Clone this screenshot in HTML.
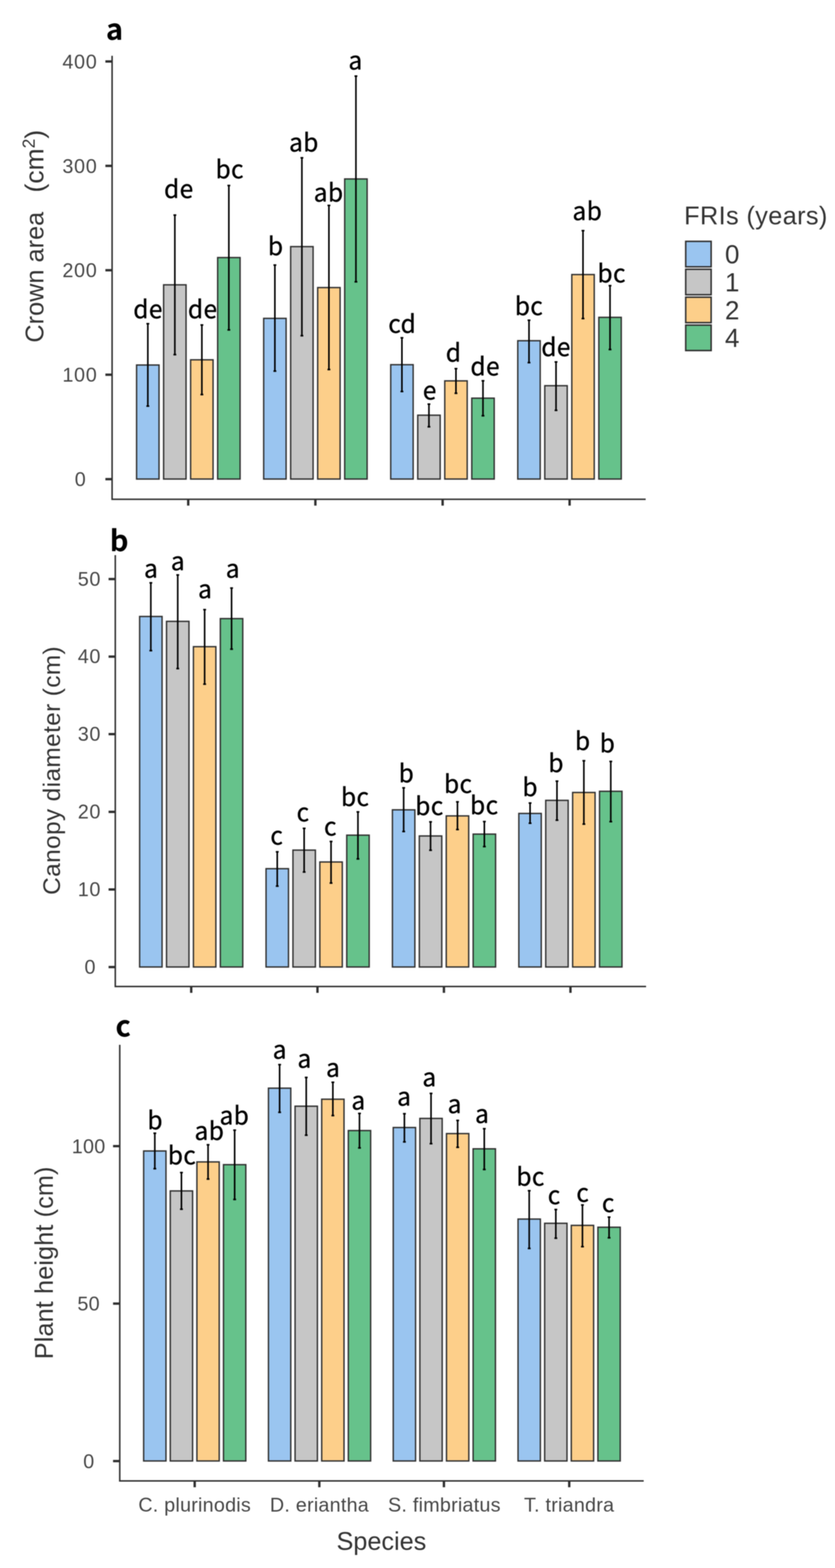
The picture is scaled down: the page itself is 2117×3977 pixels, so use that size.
<!DOCTYPE html>
<html lang="en">
<head>
<meta charset="utf-8">
<title>Crown area, canopy diameter and plant height by species and FRIs</title>
<style>
html,body{margin:0;padding:0;background:#fff;}
body{width:2117px;height:3977px;overflow:hidden;}
svg{display:block;filter:blur(0.8px);font-family:"Liberation Sans",sans-serif;}
svg text{paint-order:stroke;}
.l{font-family:"Noto Sans CJK JP","Noto Sans CJK SC","Liberation Sans",sans-serif;font-size:62px;letter-spacing:1px;text-anchor:middle;fill:#000;stroke:#000;stroke-width:0.8px;}
.pl{font-family:"Noto Sans CJK JP","Noto Sans CJK SC","Liberation Sans",sans-serif;font-size:74px;font-weight:bold;fill:#000;}
</style>
</head>
<body>
<svg width="2117" height="3977" viewBox="0 0 2117 3977">
<rect width="2117" height="3977" fill="#fff"/>
<rect x="346.3" y="925.8" width="56.9" height="289.2" fill="#9AC5F0" stroke="#303030" stroke-width="3.5"/>
<rect x="414.8" y="722.4" width="56.9" height="492.6" fill="#C6C6C6" stroke="#303030" stroke-width="3.5"/>
<rect x="483.3" y="912.6" width="56.9" height="302.4" fill="#FDCF8A" stroke="#303030" stroke-width="3.5"/>
<rect x="551.8" y="653.3" width="56.9" height="561.7" fill="#66C28B" stroke="#303030" stroke-width="3.5"/>
<rect x="668.5" y="807.5" width="56.9" height="407.5" fill="#9AC5F0" stroke="#303030" stroke-width="3.5"/>
<rect x="736.9" y="625.5" width="56.9" height="589.5" fill="#C6C6C6" stroke="#303030" stroke-width="3.5"/>
<rect x="805.4" y="729.4" width="56.9" height="485.6" fill="#FDCF8A" stroke="#303030" stroke-width="3.5"/>
<rect x="873.9" y="453.9" width="56.9" height="761.1" fill="#66C28B" stroke="#303030" stroke-width="3.5"/>
<rect x="990.6" y="925.0" width="56.9" height="290.0" fill="#9AC5F0" stroke="#303030" stroke-width="3.5"/>
<rect x="1059.1" y="1053.1" width="56.9" height="161.9" fill="#C6C6C6" stroke="#303030" stroke-width="3.5"/>
<rect x="1127.6" y="966.0" width="56.9" height="249.0" fill="#FDCF8A" stroke="#303030" stroke-width="3.5"/>
<rect x="1196.1" y="1009.9" width="56.9" height="205.1" fill="#66C28B" stroke="#303030" stroke-width="3.5"/>
<rect x="1312.7" y="864.2" width="56.9" height="350.8" fill="#9AC5F0" stroke="#303030" stroke-width="3.5"/>
<rect x="1381.2" y="978.3" width="56.9" height="236.7" fill="#C6C6C6" stroke="#303030" stroke-width="3.5"/>
<rect x="1449.7" y="696.4" width="56.9" height="518.6" fill="#FDCF8A" stroke="#303030" stroke-width="3.5"/>
<rect x="1518.2" y="804.9" width="56.9" height="410.1" fill="#66C28B" stroke="#303030" stroke-width="3.5"/>
<path d="M374.8 819.3V1031.9M371.2 821.1h7.2M371.2 1030.1h7.2" stroke="#000" stroke-width="4.0" fill="none"/>
<path d="M443.3 543.8V901.2M439.7 545.6h7.2M439.7 899.4h7.2" stroke="#000" stroke-width="4.0" fill="none"/>
<path d="M511.8 822.5V1002.5M508.2 824.3h7.2M508.2 1000.7h7.2" stroke="#000" stroke-width="4.0" fill="none"/>
<path d="M580.2 468.8V838.6M576.6 470.6h7.2M576.6 836.8h7.2" stroke="#000" stroke-width="4.0" fill="none"/>
<path d="M696.9 670.5V943.0M693.3 672.3h7.2M693.3 941.2h7.2" stroke="#000" stroke-width="4.0" fill="none"/>
<path d="M765.4 398.5V853.3M761.8 400.3h7.2M761.8 851.5h7.2" stroke="#000" stroke-width="4.0" fill="none"/>
<path d="M833.9 519.1V939.0M830.3 520.9h7.2M830.3 937.2h7.2" stroke="#000" stroke-width="4.0" fill="none"/>
<path d="M902.4 191.2V716.5M898.8 193.0h7.2M898.8 714.7h7.2" stroke="#000" stroke-width="4.0" fill="none"/>
<path d="M1019.0 854.9V994.8M1015.4 856.7h7.2M1015.4 993.0h7.2" stroke="#000" stroke-width="4.0" fill="none"/>
<path d="M1087.5 1023.3V1084.2M1083.9 1025.1h7.2M1083.9 1082.4h7.2" stroke="#000" stroke-width="4.0" fill="none"/>
<path d="M1156.0 933.1V999.4M1152.4 934.9h7.2M1152.4 997.6h7.2" stroke="#000" stroke-width="4.0" fill="none"/>
<path d="M1224.5 963.9V1056.4M1220.9 965.7h7.2M1220.9 1054.6h7.2" stroke="#000" stroke-width="4.0" fill="none"/>
<path d="M1341.2 810.5V921.5M1337.6 812.3h7.2M1337.6 919.7h7.2" stroke="#000" stroke-width="4.0" fill="none"/>
<path d="M1409.7 916.1V1042.5M1406.1 917.9h7.2M1406.1 1040.7h7.2" stroke="#000" stroke-width="4.0" fill="none"/>
<path d="M1478.1 583.1V809.7M1474.5 584.9h7.2M1474.5 807.9h7.2" stroke="#000" stroke-width="4.0" fill="none"/>
<path d="M1546.6 722.6V888.3M1543.0 724.4h7.2M1543.0 886.5h7.2" stroke="#000" stroke-width="4.0" fill="none"/>
<text class="l" x="375.5" y="807.0">de</text>
<text class="l" x="453.5" y="502.0">de</text>
<text class="l" x="514.0" y="807.0">de</text>
<text class="l" x="582.4" y="451.8" letter-spacing="-0.3">bc</text>
<text class="l" x="699.0" y="646.6">b</text>
<text class="l" x="770.5" y="383.7">ab</text>
<text class="l" x="833.2" y="511.3">ab</text>
<text class="l" x="901.5" y="176.0">a</text>
<text class="l" x="1019.9" y="844.0">cd</text>
<text class="l" x="1089.8" y="1013.2">e</text>
<text class="l" x="1149.9" y="916.9">d</text>
<text class="l" x="1230.1" y="951.6">de</text>
<text class="l" x="1341.2" y="799.0" letter-spacing="-0.3">bc</text>
<text class="l" x="1409.8" y="903.0">de</text>
<text class="l" x="1489.2" y="557.6">ab</text>
<text class="l" x="1550.8" y="716.4" letter-spacing="-0.3">bc</text>
<path d="M284.2 141.5V1266.4H1637" stroke="#2e2e2e" stroke-width="3.8" fill="none" stroke-linejoin="miter"/>
<path d="M267.2 155.9H284.2" stroke="#2e2e2e" stroke-width="6.0"/>
<text x="202.6" y="173.8" font-size="50" letter-spacing="1.8" text-anchor="middle" fill="#464646">400</text>
<path d="M267.2 420.7H284.2" stroke="#2e2e2e" stroke-width="6.0"/>
<text x="202.6" y="438.6" font-size="50" letter-spacing="1.8" text-anchor="middle" fill="#464646">300</text>
<path d="M267.2 685.4H284.2" stroke="#2e2e2e" stroke-width="6.0"/>
<text x="202.6" y="703.3" font-size="50" letter-spacing="1.8" text-anchor="middle" fill="#464646">200</text>
<path d="M267.2 950.4H284.2" stroke="#2e2e2e" stroke-width="6.0"/>
<text x="202.6" y="968.3" font-size="50" letter-spacing="1.8" text-anchor="middle" fill="#464646">100</text>
<path d="M267.2 1215.3H284.2" stroke="#2e2e2e" stroke-width="6.0"/>
<text x="204.3" y="1233.2" font-size="50" letter-spacing="1.8" text-anchor="middle" fill="#464646">0</text>
<path d="M477.2 1266.4v16" stroke="#2e2e2e" stroke-width="6.0"/>
<path d="M799.6 1266.4v16" stroke="#2e2e2e" stroke-width="6.0"/>
<path d="M1122.2 1266.4v16" stroke="#2e2e2e" stroke-width="6.0"/>
<path d="M1444.1 1266.4v16" stroke="#2e2e2e" stroke-width="6.0"/>
<text transform="translate(109.8 869) rotate(-90)" font-size="64" letter-spacing="0.1" text-anchor="start" fill="#333333">Crown area<tspan dx="49" font-size="67">(cm</tspan><tspan font-size="44" dy="-22">2</tspan><tspan dy="22" font-size="67">)</tspan></text>
<text class="pl" x="268.6" y="100.8">a</text>
<rect x="354.0" y="1563.6" width="56.9" height="889.0" fill="#9AC5F0" stroke="#303030" stroke-width="3.5"/>
<rect x="422.2" y="1576.0" width="56.9" height="876.6" fill="#C6C6C6" stroke="#303030" stroke-width="3.5"/>
<rect x="490.4" y="1640.2" width="56.9" height="812.4" fill="#FDCF8A" stroke="#303030" stroke-width="3.5"/>
<rect x="558.6" y="1569.0" width="56.9" height="883.6" fill="#66C28B" stroke="#303030" stroke-width="3.5"/>
<rect x="674.5" y="2203.3" width="56.9" height="249.3" fill="#9AC5F0" stroke="#303030" stroke-width="3.5"/>
<rect x="742.7" y="2156.2" width="56.9" height="296.4" fill="#C6C6C6" stroke="#303030" stroke-width="3.5"/>
<rect x="810.9" y="2186.3" width="56.9" height="266.3" fill="#FDCF8A" stroke="#303030" stroke-width="3.5"/>
<rect x="879.1" y="2118.3" width="56.9" height="334.3" fill="#66C28B" stroke="#303030" stroke-width="3.5"/>
<rect x="994.9" y="2054.0" width="56.9" height="398.6" fill="#9AC5F0" stroke="#303030" stroke-width="3.5"/>
<rect x="1063.1" y="2120.3" width="56.9" height="332.3" fill="#C6C6C6" stroke="#303030" stroke-width="3.5"/>
<rect x="1131.4" y="2069.4" width="56.9" height="383.2" fill="#FDCF8A" stroke="#303030" stroke-width="3.5"/>
<rect x="1199.6" y="2115.6" width="56.9" height="337.0" fill="#66C28B" stroke="#303030" stroke-width="3.5"/>
<rect x="1315.4" y="2063.2" width="56.9" height="389.4" fill="#9AC5F0" stroke="#303030" stroke-width="3.5"/>
<rect x="1383.6" y="2030.0" width="56.9" height="422.6" fill="#C6C6C6" stroke="#303030" stroke-width="3.5"/>
<rect x="1451.8" y="2010.0" width="56.9" height="442.6" fill="#FDCF8A" stroke="#303030" stroke-width="3.5"/>
<rect x="1520.0" y="2007.0" width="56.9" height="445.6" fill="#66C28B" stroke="#303030" stroke-width="3.5"/>
<path d="M382.4 1476.5V1652.0M378.8 1478.3h7.2M378.8 1650.2h7.2" stroke="#000" stroke-width="4.0" fill="none"/>
<path d="M450.6 1456.5V1697.6M447.0 1458.3h7.2M447.0 1695.8h7.2" stroke="#000" stroke-width="4.0" fill="none"/>
<path d="M518.8 1544.5V1737.0M515.2 1546.3h7.2M515.2 1735.2h7.2" stroke="#000" stroke-width="4.0" fill="none"/>
<path d="M587.1 1489.7V1648.2M583.5 1491.5h7.2M583.5 1646.4h7.2" stroke="#000" stroke-width="4.0" fill="none"/>
<path d="M702.9 2158.8V2249.2M699.3 2160.6h7.2M699.3 2247.4h7.2" stroke="#000" stroke-width="4.0" fill="none"/>
<path d="M771.1 2099.2V2213.6M767.5 2101.0h7.2M767.5 2211.8h7.2" stroke="#000" stroke-width="4.0" fill="none"/>
<path d="M839.3 2132.5V2241.5M835.7 2134.3h7.2M835.7 2239.7h7.2" stroke="#000" stroke-width="4.0" fill="none"/>
<path d="M907.5 2057.5V2180.4M903.9 2059.3h7.2M903.9 2178.6h7.2" stroke="#000" stroke-width="4.0" fill="none"/>
<path d="M1023.4 1996.5V2110.8M1019.8 1998.3h7.2M1019.8 2109.0h7.2" stroke="#000" stroke-width="4.0" fill="none"/>
<path d="M1091.6 2082.8V2158.3M1088.0 2084.6h7.2M1088.0 2156.5h7.2" stroke="#000" stroke-width="4.0" fill="none"/>
<path d="M1159.8 2031.9V2105.9M1156.2 2033.7h7.2M1156.2 2104.1h7.2" stroke="#000" stroke-width="4.0" fill="none"/>
<path d="M1228.0 2082.0V2149.0M1224.4 2083.8h7.2M1224.4 2147.2h7.2" stroke="#000" stroke-width="4.0" fill="none"/>
<path d="M1343.9 2035.0V2089.7M1340.3 2036.8h7.2M1340.3 2087.9h7.2" stroke="#000" stroke-width="4.0" fill="none"/>
<path d="M1412.1 1979.5V2082.0M1408.5 1981.3h7.2M1408.5 2080.2h7.2" stroke="#000" stroke-width="4.0" fill="none"/>
<path d="M1480.3 1927.8V2092.0M1476.7 1929.6h7.2M1476.7 2090.2h7.2" stroke="#000" stroke-width="4.0" fill="none"/>
<path d="M1548.5 1929.5V2085.8M1544.9 1931.3h7.2M1544.9 2084.0h7.2" stroke="#000" stroke-width="4.0" fill="none"/>
<text class="l" x="383.2" y="1465.0">a</text>
<text class="l" x="451.3" y="1446.4">a</text>
<text class="l" x="520.1" y="1516.7">a</text>
<text class="l" x="590.5" y="1465.0">a</text>
<text class="l" x="701.8" y="2141.7">c</text>
<text class="l" x="768.2" y="2083.0">c</text>
<text class="l" x="837.8" y="2118.5">c</text>
<text class="l" x="900.5" y="2043.5" letter-spacing="-0.3">bc</text>
<text class="l" x="1030.5" y="1983.5">b</text>
<text class="l" x="1088.8" y="2067.0" letter-spacing="-0.3">bc</text>
<text class="l" x="1161.6" y="2011.0" letter-spacing="-0.3">bc</text>
<text class="l" x="1227.8" y="2065.0" letter-spacing="-0.3">bc</text>
<text class="l" x="1344.2" y="2019.0">b</text>
<text class="l" x="1409.8" y="1958.0">b</text>
<text class="l" x="1477.5" y="1902.4">b</text>
<text class="l" x="1540.1" y="1907.8">b</text>
<path d="M292.3 1408V2502.2H1638" stroke="#2e2e2e" stroke-width="3.8" fill="none" stroke-linejoin="miter"/>
<path d="M275.3 1468.7H292.3" stroke="#2e2e2e" stroke-width="6.0"/>
<text x="226.8" y="1485.7" font-size="50" letter-spacing="1.8" text-anchor="middle" fill="#464646">50</text>
<path d="M275.3 1665.4H292.3" stroke="#2e2e2e" stroke-width="6.0"/>
<text x="226.8" y="1682.4" font-size="50" letter-spacing="1.8" text-anchor="middle" fill="#464646">40</text>
<path d="M275.3 1862H292.3" stroke="#2e2e2e" stroke-width="6.0"/>
<text x="226.8" y="1879.0" font-size="50" letter-spacing="1.8" text-anchor="middle" fill="#464646">30</text>
<path d="M275.3 2059.2H292.3" stroke="#2e2e2e" stroke-width="6.0"/>
<text x="226.8" y="2076.2" font-size="50" letter-spacing="1.8" text-anchor="middle" fill="#464646">20</text>
<path d="M275.3 2256H292.3" stroke="#2e2e2e" stroke-width="6.0"/>
<text x="226.8" y="2273.0" font-size="50" letter-spacing="1.8" text-anchor="middle" fill="#464646">10</text>
<path d="M275.3 2452.8H292.3" stroke="#2e2e2e" stroke-width="6.0"/>
<text x="229.0" y="2469.8" font-size="50" letter-spacing="1.8" text-anchor="middle" fill="#464646">0</text>
<path d="M484.8 2502.2v16" stroke="#2e2e2e" stroke-width="6.0"/>
<path d="M804.9 2502.2v16" stroke="#2e2e2e" stroke-width="6.0"/>
<path d="M1125.5 2502.2v16" stroke="#2e2e2e" stroke-width="6.0"/>
<path d="M1446.3 2502.2v16" stroke="#2e2e2e" stroke-width="6.0"/>
<text transform="translate(152.4 1954.0) rotate(-90)" font-size="62" letter-spacing="0.9" text-anchor="middle" fill="#333333">Canopy diameter (cm)</text>
<text class="pl" x="278.3" y="1397.8">b</text>
<rect x="364.2" y="2919.3" width="56.6" height="786.2" fill="#9AC5F0" stroke="#303030" stroke-width="3.5"/>
<rect x="431.7" y="3020.6" width="56.6" height="684.9" fill="#C6C6C6" stroke="#303030" stroke-width="3.5"/>
<rect x="499.2" y="2947.0" width="56.6" height="758.5" fill="#FDCF8A" stroke="#303030" stroke-width="3.5"/>
<rect x="566.6" y="2954.0" width="56.6" height="751.5" fill="#66C28B" stroke="#303030" stroke-width="3.5"/>
<rect x="680.6" y="2760.0" width="56.6" height="945.5" fill="#9AC5F0" stroke="#303030" stroke-width="3.5"/>
<rect x="748.1" y="2805.7" width="56.6" height="899.8" fill="#C6C6C6" stroke="#303030" stroke-width="3.5"/>
<rect x="815.6" y="2788.0" width="56.6" height="917.5" fill="#FDCF8A" stroke="#303030" stroke-width="3.5"/>
<rect x="883.1" y="2867.5" width="56.6" height="838.0" fill="#66C28B" stroke="#303030" stroke-width="3.5"/>
<rect x="997.0" y="2859.8" width="56.6" height="845.7" fill="#9AC5F0" stroke="#303030" stroke-width="3.5"/>
<rect x="1064.5" y="2836.7" width="56.6" height="868.8" fill="#C6C6C6" stroke="#303030" stroke-width="3.5"/>
<rect x="1132.0" y="2875.2" width="56.6" height="830.3" fill="#FDCF8A" stroke="#303030" stroke-width="3.5"/>
<rect x="1199.5" y="2913.8" width="56.6" height="791.7" fill="#66C28B" stroke="#303030" stroke-width="3.5"/>
<rect x="1313.4" y="3092.0" width="56.6" height="613.5" fill="#9AC5F0" stroke="#303030" stroke-width="3.5"/>
<rect x="1380.9" y="3102.7" width="56.6" height="602.8" fill="#C6C6C6" stroke="#303030" stroke-width="3.5"/>
<rect x="1448.4" y="3108.0" width="56.6" height="597.5" fill="#FDCF8A" stroke="#303030" stroke-width="3.5"/>
<rect x="1515.9" y="3112.7" width="56.6" height="592.8" fill="#66C28B" stroke="#303030" stroke-width="3.5"/>
<path d="M392.5 2872.5V2966.0M388.9 2874.3h7.2M388.9 2964.2h7.2" stroke="#000" stroke-width="4.0" fill="none"/>
<path d="M460.0 2972.2V3068.8M456.4 2974.0h7.2M456.4 3067.0h7.2" stroke="#000" stroke-width="4.0" fill="none"/>
<path d="M527.5 2901.8V2992.2M523.9 2903.6h7.2M523.9 2990.4h7.2" stroke="#000" stroke-width="4.0" fill="none"/>
<path d="M594.9 2864.7V3044.0M591.3 2866.5h7.2M591.3 3042.2h7.2" stroke="#000" stroke-width="4.0" fill="none"/>
<path d="M708.9 2698.5V2823.0M705.3 2700.3h7.2M705.3 2821.2h7.2" stroke="#000" stroke-width="4.0" fill="none"/>
<path d="M776.4 2730.9V2881.0M772.8 2732.7h7.2M772.8 2879.2h7.2" stroke="#000" stroke-width="4.0" fill="none"/>
<path d="M843.9 2743.3V2831.4M840.3 2745.1h7.2M840.3 2829.6h7.2" stroke="#000" stroke-width="4.0" fill="none"/>
<path d="M911.4 2822.2V2913.4M907.8 2824.0h7.2M907.8 2911.6h7.2" stroke="#000" stroke-width="4.0" fill="none"/>
<path d="M1025.3 2822.9V2898.0M1021.7 2824.7h7.2M1021.7 2896.2h7.2" stroke="#000" stroke-width="4.0" fill="none"/>
<path d="M1092.8 2771.5V2902.5M1089.2 2773.3h7.2M1089.2 2900.7h7.2" stroke="#000" stroke-width="4.0" fill="none"/>
<path d="M1160.3 2840.0V2911.7M1156.7 2841.8h7.2M1156.7 2909.9h7.2" stroke="#000" stroke-width="4.0" fill="none"/>
<path d="M1227.8 2860.9V2968.0M1224.2 2862.7h7.2M1224.2 2966.2h7.2" stroke="#000" stroke-width="4.0" fill="none"/>
<path d="M1341.7 3018.1V3168.4M1338.1 3019.9h7.2M1338.1 3166.6h7.2" stroke="#000" stroke-width="4.0" fill="none"/>
<path d="M1409.2 3065.9V3142.2M1405.6 3067.7h7.2M1405.6 3140.4h7.2" stroke="#000" stroke-width="4.0" fill="none"/>
<path d="M1476.7 3054.4V3163.8M1473.1 3056.2h7.2M1473.1 3162.0h7.2" stroke="#000" stroke-width="4.0" fill="none"/>
<path d="M1544.2 3085.2V3141.4M1540.6 3087.0h7.2M1540.6 3139.6h7.2" stroke="#000" stroke-width="4.0" fill="none"/>
<text class="l" x="393.3" y="2864.0">b</text>
<text class="l" x="461.4" y="2952.8" letter-spacing="-0.3">bc</text>
<text class="l" x="530.9" y="2891.0">ab</text>
<text class="l" x="594.3" y="2852.3">ab</text>
<text class="l" x="709.5" y="2684.5">a</text>
<text class="l" x="772.1" y="2707.7">a</text>
<text class="l" x="844.8" y="2731.0">a</text>
<text class="l" x="909.0" y="2813.6">a</text>
<text class="l" x="1025.0" y="2803.6">a</text>
<text class="l" x="1089.0" y="2755.2">a</text>
<text class="l" x="1153.0" y="2823.0">a</text>
<text class="l" x="1222.5" y="2847.7">a</text>
<text class="l" x="1345.1" y="3007.3" letter-spacing="-0.3">bc</text>
<text class="l" x="1405.1" y="3054.3">c</text>
<text class="l" x="1477.5" y="3048.2">c</text>
<text class="l" x="1542.4" y="3074.4">c</text>
<path d="M303.6 2650V3756.2H1632" stroke="#2e2e2e" stroke-width="3.8" fill="none" stroke-linejoin="miter"/>
<path d="M286.6 2907H303.6" stroke="#2e2e2e" stroke-width="6.0"/>
<text x="224.7" y="2924.9" font-size="50" letter-spacing="0.6" text-anchor="middle" fill="#464646">100</text>
<path d="M286.6 3306.4H303.6" stroke="#2e2e2e" stroke-width="6.0"/>
<text x="224.7" y="3324.3" font-size="50" letter-spacing="0.6" text-anchor="middle" fill="#464646">50</text>
<path d="M286.6 3705.8H303.6" stroke="#2e2e2e" stroke-width="6.0"/>
<text x="225.3" y="3723.7" font-size="50" letter-spacing="0.6" text-anchor="middle" fill="#464646">0</text>
<path d="M493.6 3756.2v16" stroke="#2e2e2e" stroke-width="6.0"/>
<path d="M809.6 3756.2v16" stroke="#2e2e2e" stroke-width="6.0"/>
<path d="M1125.5 3756.2v16" stroke="#2e2e2e" stroke-width="6.0"/>
<path d="M1443.2 3756.2v16" stroke="#2e2e2e" stroke-width="6.0"/>
<text transform="translate(134 3203) rotate(-90)" font-size="64" letter-spacing="0.3" text-anchor="middle" fill="#333333">Plant height (cm)</text>
<text class="pl" x="292.8" y="2628.6">c</text>
<text x="493.5" y="3834" font-size="50" letter-spacing="0.6" text-anchor="middle" fill="#464646">C. plurinodis</text>
<text x="809.9" y="3834" font-size="50" letter-spacing="0.6" text-anchor="middle" fill="#464646">D. eriantha</text>
<text x="1126.7" y="3834" font-size="50" letter-spacing="0.6" text-anchor="middle" fill="#464646">S. fimbriatus</text>
<text x="1442.8999999999999" y="3834" font-size="50" letter-spacing="0.6" text-anchor="middle" fill="#464646">T. triandra</text>
<text x="967" y="3931.3" font-size="64" text-anchor="middle" fill="#333333">Species</text>
<text x="1734.6" y="569" font-size="64" letter-spacing="1" fill="#333333">FRIs (years)</text>
<rect x="1738.5" y="612.2" width="64.5" height="64.5" fill="#9AC5F0" stroke="#303030" stroke-width="3.8"/>
<text x="1838" y="668.0" font-size="66" fill="#333333">0</text>
<rect x="1738.5" y="683.0" width="64.5" height="64.5" fill="#C6C6C6" stroke="#303030" stroke-width="3.8"/>
<text x="1838" y="738.8" font-size="66" fill="#333333">1</text>
<rect x="1738.5" y="753.8" width="64.5" height="64.5" fill="#FDCF8A" stroke="#303030" stroke-width="3.8"/>
<text x="1838" y="809.6" font-size="66" fill="#333333">2</text>
<rect x="1738.5" y="824.6" width="64.5" height="64.5" fill="#66C28B" stroke="#303030" stroke-width="3.8"/>
<text x="1838" y="880.4" font-size="66" fill="#333333">4</text>
</svg>
</body>
</html>
